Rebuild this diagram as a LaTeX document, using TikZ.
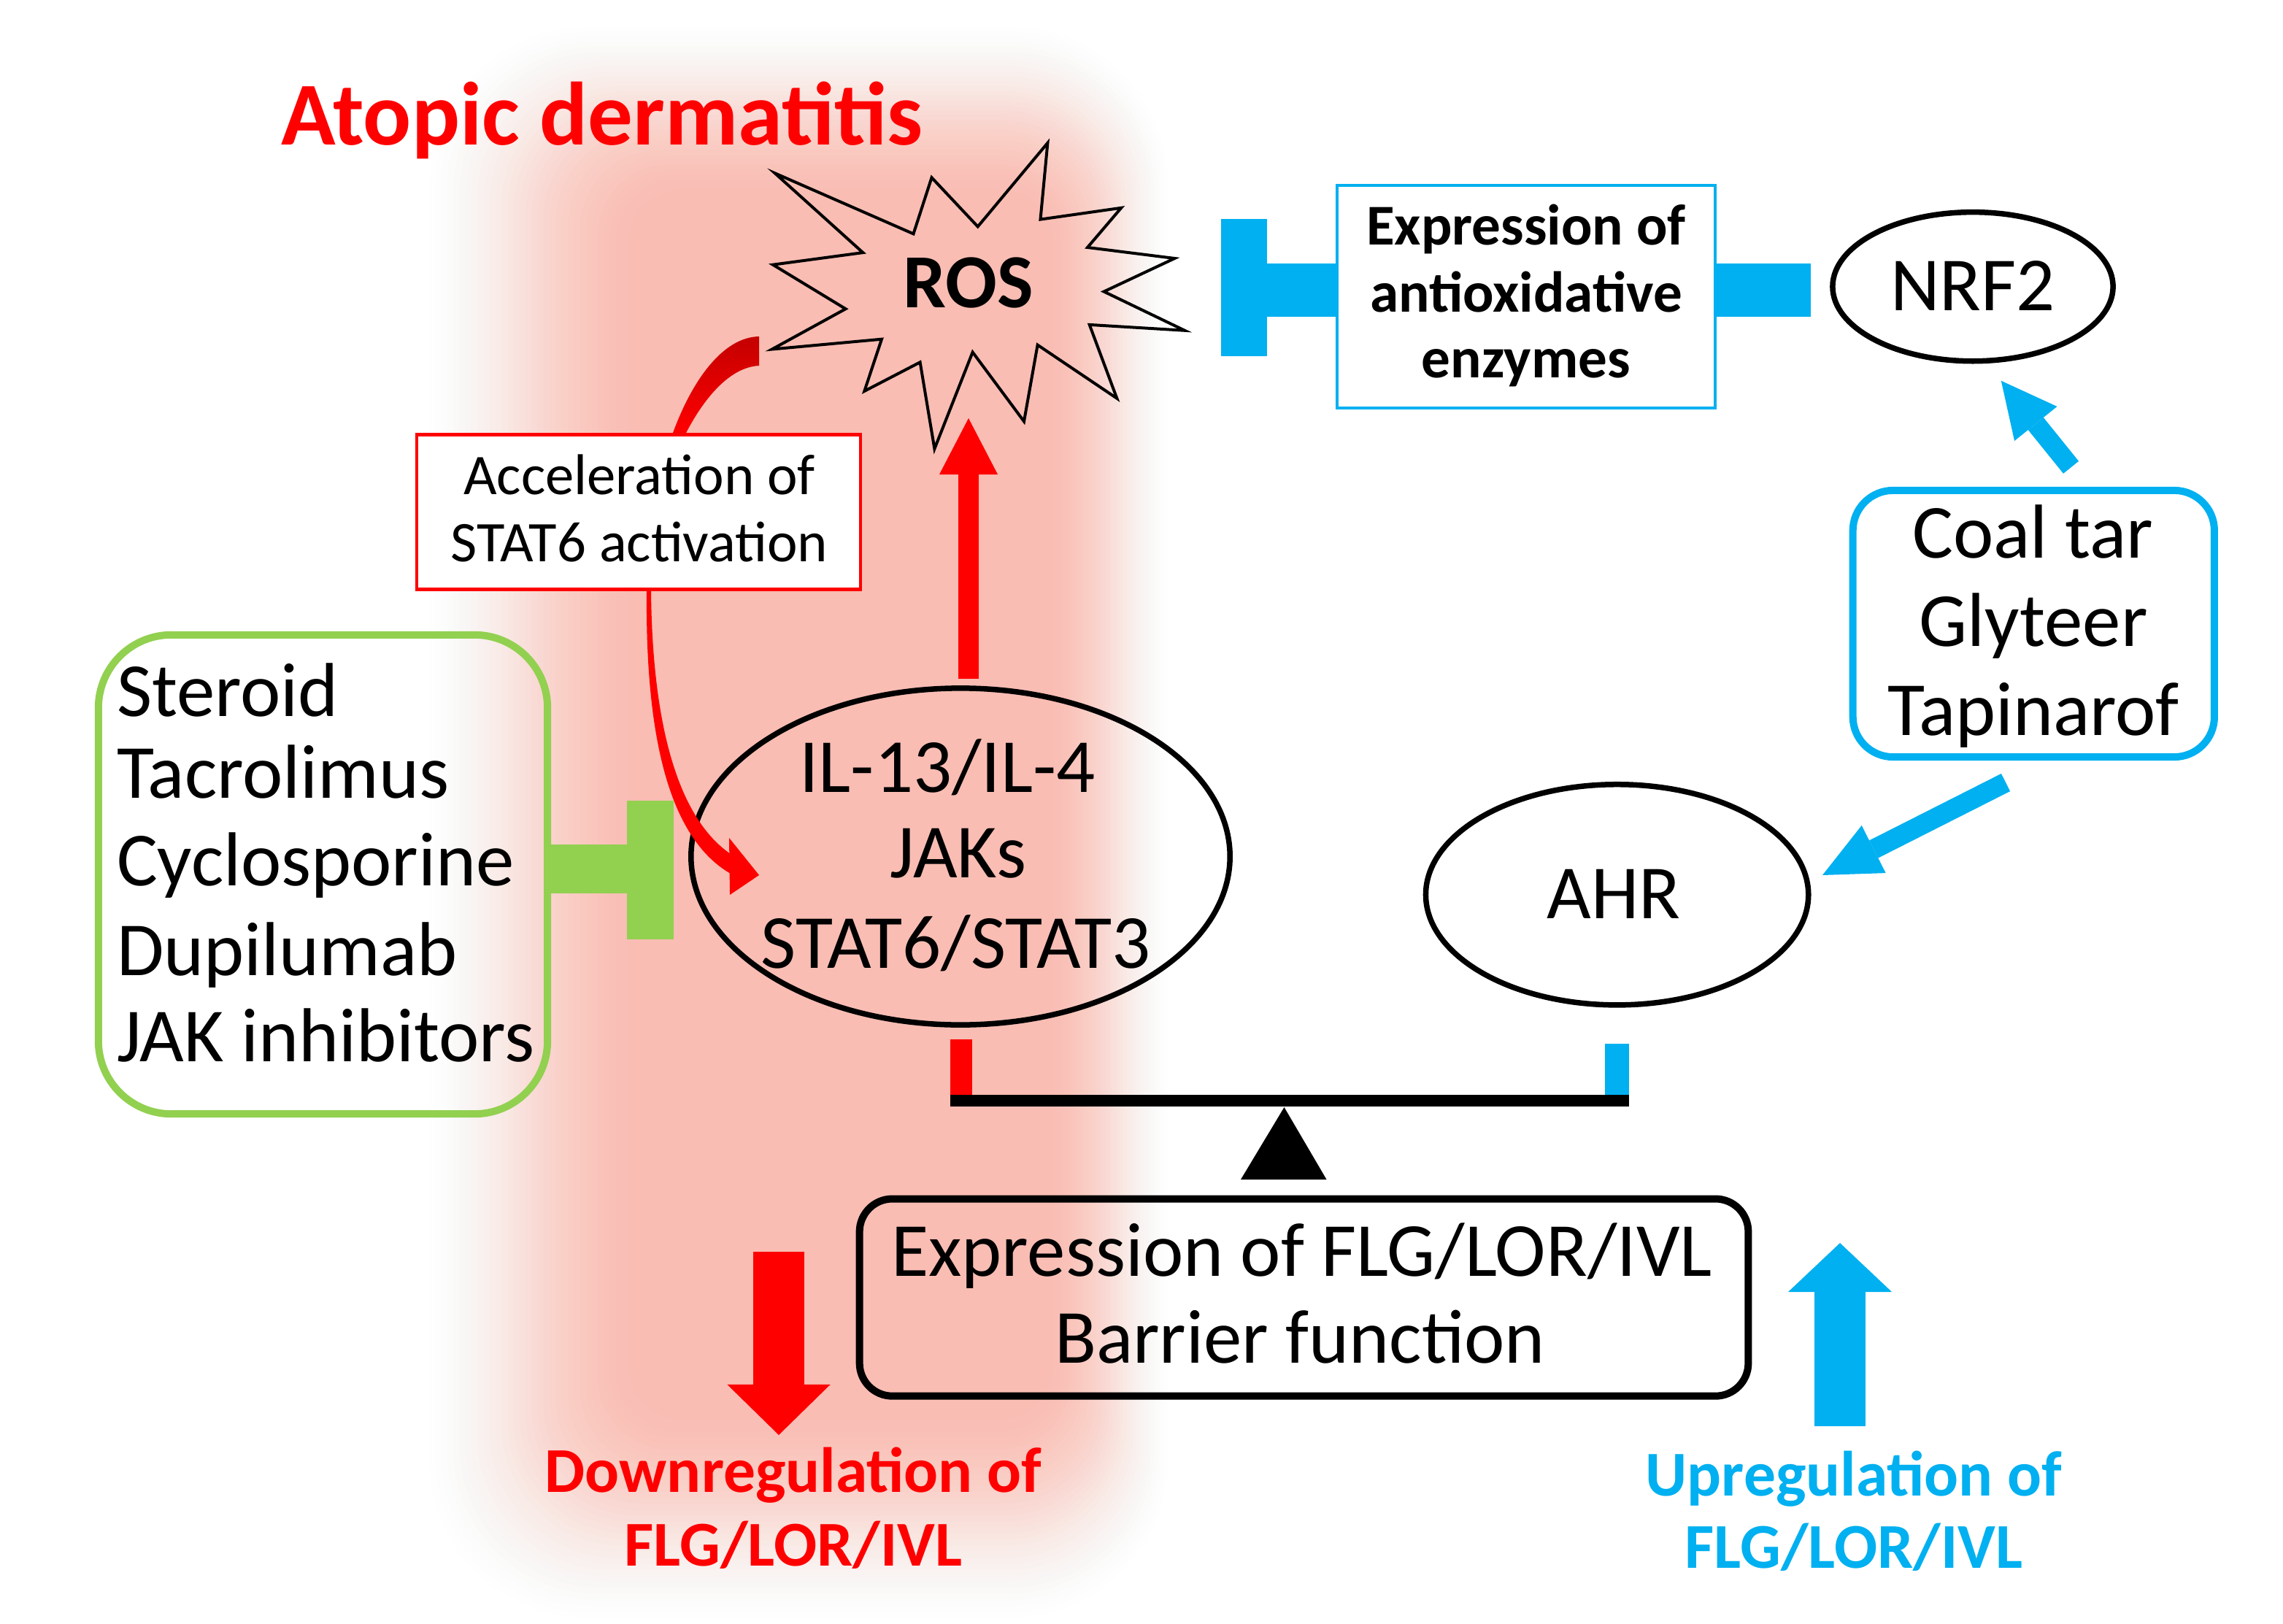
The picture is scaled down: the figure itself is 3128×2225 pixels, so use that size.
\documentclass[tikz,border=0pt]{standalone}
\usepackage{fontspec}
\setmainfont{Carlito}
\usetikzlibrary{shapes.geometric,arrows.meta}
\definecolor{adred}{RGB}{255,0,0}
\definecolor{adblue}{RGB}{0,176,240}
\definecolor{adgreen}{RGB}{146,208,80}
\definecolor{addark}{RGB}{196,0,0}
\definecolor{adpink}{RGB}{249,189,179}
\begin{document}
\begin{tikzpicture}[x=0.01cm,y=-0.01cm,
  every node/.style={inner sep=0pt, outer sep=0pt},
  body/.style={font=\fontsize{29.8}{34}\selectfont, anchor=base},
  bodyb/.style={font=\bfseries\fontsize{29.8}{34}\selectfont, anchor=base},
  small/.style={font=\fontsize{22.4}{26}\selectfont, anchor=base},
  smallb/.style={font=\bfseries\fontsize{22.5}{26}\selectfont, anchor=base},
  reg/.style={font=\bfseries\fontsize{24.9}{28}\selectfont, anchor=base},
  oval/.style={ellipse, draw=black, line width=0.075cm}]
\useasboundingbox (0,0) rectangle (3128,2225);
\fill[white] (0,0) rectangle (3128,2225);
% pink glow: stacked soft layers (smoothstep ramp)
\foreach \k in {1,...,40}{
  \pgfmathsetmacro{\u}{\k/40}
  \pgfmathsetmacro{\v}{(\k-1)/40}
  \pgfmathsetmacro{\cu}{\u*\u*(3-2*\u)}
  \pgfmathsetmacro{\cv}{\v*\v*(3-2*\v)}
  \pgfmathsetmacro{\al}{(\cu-\cv)/(1-\cv)}
  \pgfmathsetmacro{\r}{(220-170*\v)*0.2845}
  \fill[adpink, fill opacity=\al, rounded corners=\r pt]
    ({580+330*\v},{30+270*\v}) rectangle ({1605-190*\v},{2225-330*\v});
}
% ROS star
\draw[line width=0.04cm, line join=miter]
 (1061.7,237.3) -- (1251.5,320.4) -- (1276.5,243.3) -- (1339.7,310.5) --
 (1435.4,195.8) -- (1425.5,300.6) -- (1536.2,284.8) -- (1490.0,339.0) --
 (1609.4,354.0) -- (1512.5,399.5) -- (1623.2,452.8) -- (1492.7,444.9) --
 (1530.3,545.8) -- (1421.6,472.6) -- (1403.0,577.4) -- (1332.6,482.5) --
 (1280.4,614.9) -- (1260.6,496.3) -- (1184.3,535.9) -- (1208.0,464.7) --
 (1057.8,478.5) -- (1158.6,423.2) -- (1059.0,362.7) -- (1182.3,346.1) -- cycle;
\node[bodyb] (ros) at (1327,422) {ROS};
\node[font=\bfseries\fontsize{35}{40}\selectfont, text=adred, anchor=base] (title) at (825,199) {Atopic dermatitis};

% IL ellipse
\node[oval, minimum width=7.38cm, minimum height=4.61cm] (il) at (1316,1173.5) {};
\node[body] (il1) at (1298,1085) {IL-13/IL-4};
\node[body] (il2) at (1313,1202) {JAKs};
\node[body] (il3) at (1310,1326) {STAT6/STAT3};

% red arrow IL -> ROS
\coordinate (upt) at (1327,930);
\coordinate (uph) at (1327,573);
\draw[adred, line width=0.28cm, -{Triangle[length=0.77cm, width=0.8cm, line width=0pt]}] (upt) -- (uph);

% green box
\node[draw=adgreen, line width=0.1cm, rounded corners=1cm, minimum width=6.15cm, minimum height=6.56cm] (gbox) at (442.5,1198) {};
\node[body, anchor=base west] (g1) at (160,981.5) {Steroid};
\node[body, anchor=base west] (g2) at (160,1093.5) {Tacrolimus};
\node[body, anchor=base west] (g3) at (160,1213) {Cyclosporine};
\node[body, anchor=base west] (g4) at (160,1336) {Dupilumab};
\node[body, anchor=base west] (g5) at (160,1454) {JAK inhibitors};
\fill[adgreen] (755,1157) rectangle (860,1224);
\fill[adgreen] (858.5,1097) rectangle (922.7,1287);

% thin red arrow from acceleration box to IL ellipse
\fill[adred] (886,810) .. controls (884,1020) and (920,1150) .. (1001,1197)
  -- (1001,1170) .. controls (935,1125) and (894,1010) .. (892,810) -- cycle;
\fill[adred] (999,1148) -- (1040,1199) -- (1000,1226) -- cycle;

% dark red curve towards ROS
\shade[top color=addark, bottom color=adred]
  (922,593) .. controls (948,522) and (990,462) .. (1040,461)
  -- (1040,501) .. controls (1000,503) and (965,545) .. (940,593) -- cycle;

% acceleration box
\node[draw=adred, line width=0.046cm, fill=white, minimum width=6.08cm, minimum height=2.12cm] (acc) at (875,701.5) {};
\node[small] (a1) at (876,677) {Acceleration of};
\node[small] (a2) at (876,769) {STAT6 activation};

% blue inhibition T and antioxidative box
\fill[adblue] (1673,300) rectangle (1736,488);
\fill[adblue] (1736,361) rectangle (1832,434);
\fill[adblue] (2352,361) rectangle (2481,434);
\node[draw=adblue, line width=0.045cm, fill=white, minimum width=5.18cm, minimum height=3.05cm] (bbox) at (2091,406.5) {};
\node[smallb] (b1) at (2091,335.5) {Expression of};
\node[smallb] (b2) at (2091,427.5) {antioxidative};
\node[smallb] (b3) at (2091,518) {enzymes};

% NRF2
\node[oval, minimum width=3.84cm, minimum height=2.04cm] (nrf) at (2703,392.7) {};
\node[body] (nrft) at (2703,426) {NRF2};

% Coal tar box
\node[draw=adblue, line width=0.1cm, rounded corners=0.55cm, minimum width=4.95cm, minimum height=3.65cm] (coal) at (2786.3,854.5) {};
\node[body] (c1) at (2785,764) {Coal tar};
\node[body] (c2) at (2786,885) {Glyteer};
\node[body] (c3) at (2786,1007.5) {Tapinarof};

% AHR
\node[oval, minimum width=5.24cm, minimum height=3.02cm] (ahr) at (2215.6,1225.8) {};
\node[body] (ahrt) at (2211,1258.5) {AHR};

% blue arrows from coal tar box
\coordinate (n1t) at (2837.5,640.3);
\coordinate (n1h) at (2741.8,521.7);
\draw[adblue, line width=0.27cm, -{Triangle[length=0.755cm, width=0.75cm, line width=0pt]}] (n1t) -- (n1h);
\coordinate (a1t) at (2748,1072);
\coordinate (a1h) at (2497,1199);
\draw[adblue, line width=0.27cm, -{Triangle[length=0.786cm, width=0.73cm, line width=0pt]}] (a1t) -- (a1h);

% balance
\fill[adred] (1302,1424) rectangle (1332,1500);
\fill[adblue] (2199,1430) rectangle (2232,1500);
\fill[black] (1302,1500) rectangle (2232,1516);
\coordinate (apex) at (1759.5,1517);
\fill[black] (apex) -- (1817.5,1616) -- (1700,1616) -- cycle;

% bottom box
\node[draw=black, line width=0.1cm, rounded corners=0.45cm, minimum width=12.17cm, minimum height=2.7cm] (fbox) at (1786.5,1777.6) {};
\node[body] (f1) at (1783.5,1748) {Expression of FLG/LOR/IVL};
\node[body] (f2) at (1781,1867.5) {Barrier function};

% big regulation arrows
\coordinate (dt) at (1067,1715);
\coordinate (dh) at (1067,1966);
\draw[adred, line width=0.7cm, -{Triangle[length=0.69cm, width=1.41cm, line width=0pt]}] (dt) -- (dh);
\coordinate (ut) at (2521,1954);
\coordinate (uh) at (2521,1703);
\draw[adblue, line width=0.7cm, -{Triangle[length=0.67cm, width=1.42cm, line width=0pt]}] (ut) -- (uh);

\node[reg, text=adred] (d1) at (1087,2044) {Downregulation of};
\node[reg, text=adred] (d2) at (1087,2145) {FLG/LOR/IVL};
\node[reg, text=adblue] (u1) at (2540,2049) {Upregulation of};
\node[reg, text=adblue] (u2) at (2540,2148) {FLG/LOR/IVL};
\end{tikzpicture}
\end{document}
